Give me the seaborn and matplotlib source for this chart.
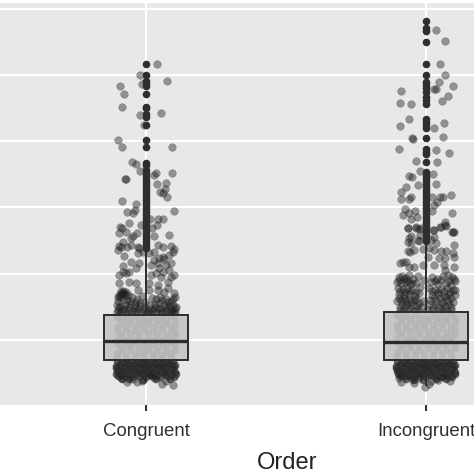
import numpy as np
import pandas as pd
import matplotlib
matplotlib.use("Agg")
import matplotlib.pyplot as plt
import seaborn as sns

# Values: (jitter offset, response) per trial
orders = ["Congruent", "Incongruent"]
y_grid = [65, 131, 198, 264, 330, 396]

# five-number summary: low whisker, q1, median, q3, high whisker
congruent_box = [23, 45, 64, 90, 155]
incongruent_box = [19, 45, 63, 93, 164]

congruent_outliers = [341, 330, 324, 322, 319, 311, 298, 297, 291, 288, 280, 265, 258, 242, 240, 235,
                      232, 229, 226, 223, 220, 217, 214, 211, 208, 205, 202, 199, 196, 193, 190, 187,
                      184, 181, 178, 175, 172, 169, 166, 163, 160, 157]
incongruent_outliers = [384, 377, 374, 363, 341, 330, 323, 320, 317, 313, 308, 305, 301, 286, 283, 280,
                        277, 267, 256, 253, 251, 243, 233, 230, 227, 224, 221, 218, 215, 212, 209, 206,
                        203, 200, 197, 194, 191, 188, 185, 182, 179, 176, 173, 170, 167, 164]

congruent_sparse = [(11,341),(-6,330),(21,324),(-26,319),(-22,311),(-4,321),(-24,298),(-6,290),(15,292),(-2,280),
    (-28,265),(-24,258),(26,258),(-14,243),(-10,241),(-6,234),(10,232),(8,230),(26,232),(-21,226),(-20,226),
    (11,221),(20,222),(19,216),(14,213),(17,212),(21,208),(-24,204),(-10,201),(-11,195),(-19,193),(-13,192),
    (28,194),(4,186),(12,186),(17,186),(-17,182),(11,180),(-5,180),(-26,178),(-24,177),(-20,173),(-27,172),
    (-9,172),(6,177),(23,170),(8,169),(-13,169)]
congruent_mid = [(-23,163),(-15,167),(-27,159),(-25,158),(-19,158),(-15,160),(-8,158),(-7,157),(12,160),(17,158),
    (25,159),(28,156),(-28,155),(-22,149),(-8,152),(-3,153),(8,153),(3,152),(23,150),(27,153),(17,148),(13,147),
    (18,146),(8,145),(-15,143),(-23,139),(-7,142),(5,140),(25,142),(12,142),(20,140),(-10,137),(-17,133),(-23,133),
    (-27,130),(-20,132),(5,130),(13,137),(17,133),(23,135),(10,132),(28,130),(25,128),(15,128),(-17,123),(-10,122),
    (-27,122),(3,122),(12,120),(22,123),(-25,114),(-22,112),(-18,110),(-27,110),(-8,115),(3,115),(12,115),(18,113),
    (28,112),(22,117),(-24,112),(-21,110),(-26,108),(-23,106),(-19,105),(-28,104),(-14,108),(-9,106),(-4,109),(6,107),
    (14,108),(20,106),(25,104),(29,108),(-29,100),(-25,99),(-21,100),(-16,101),(-11,100),(-6,102),(-1,103),(4,100),
    (9,101),(13,102),(18,100),(23,99),(27,100),(30,98),(-28,95),(-24,94),(-18,95),(-13,94),(-8,96),(-3,95),(2,94),
    (7,95),(12,96),(16,94),(21,95),(26,93),(29,94),(-26,92),(-15,92),(-5,92),(5,92),(15,92),(24,92)]
congruent_upper = [(-27,98),(-22,96),(-17,98),(-11,97),(-6,99),(-1,97),(4,96),(9,98),(14,97),(20,98),(25,96),(29,97),
    (-25,111),(-23,114),(-20,113),(-28,108),(-16,104),(-10,103),(10,106),(16,105),(22,103),(27,106),(-29,93),
    (-20,92),(-10,93),(0,92),(10,93),(19,92),(28,92)]
congruent_box_zone = [(-29,88),(-20,87),(-11,88),(-2,86),(7,88),(16,87),(25,88),(-25,81),(-16,82),(-7,80),(2,82),
    (11,81),(20,82),(29,80),(-29,74),(-20,75),(-11,74),(-2,76),(7,74),(16,75),(25,74),(-25,68),(-16,67),(-7,69),
    (2,67),(11,68),(20,67),(29,69),(-29,61),(-20,60),(-11,62),(-2,60),(7,61),(16,60),(25,62),(-25,54),(-16,55),
    (-7,53),(2,55),(11,54),(20,53),(29,55),(-29,48),(-20,47),(-11,48),(-2,47),(7,48),(16,47),(25,48),
    (-25,85),(-16,84),(-7,85),(2,84),(11,85),(20,84),(29,85),(-29,78),(-20,78),(-11,79),(-2,79),(7,78),(16,79),(25,78),
    (-25,71),(-16,72),(-7,73),(2,72),(11,72),(20,71),(29,73),(-29,65),(-20,64),(-11,65),(-2,64),(7,65),(16,64),(25,66),
    (-25,58),(-16,59),(-7,58),(2,59),(11,58),(20,58),(29,59),(-29,52),(-20,51),(-11,51),(-2,52),(7,51),(16,51),(25,52)]
congruent_bottom = [(-29,44),(-22,43),(-15,44),(-8,43),(-1,44),(6,43),(13,44),(20,43),(27,44),(-26,40),(-19,41),
    (-12,40),(-5,41),(2,40),(9,41),(16,40),(23,41),(29,40),(-30,37),(-23,36),(-16,37),(-9,36),(-2,37),(5,36),
    (12,37),(19,36),(26,37),(-27,33),(-20,32),(-13,33),(-6,32),(1,33),(8,32),(15,33),(22,32),(29,33),(-28,29),
    (-21,29),(-14,28),(-7,29),(0,28),(7,29),(14,28),(21,29),(28,28),(-24,26),(-17,26),(-3,25),(10,26),(24,26),
    (-25,42),(-18,42),(-11,42),(-4,42),(3,42),(10,42),(17,42),(24,42),(-30,39),(-22,38),(-15,38),(-8,39),(-1,38),
    (6,38),(13,39),(20,38),(28,38),(-29,34),(-24,34),(-17,35),(-10,34),(-3,35),(4,34),(11,35),(18,34),(25,35),
    (-30,31),(-25,30),(-17,30),(-10,31),(-3,31),(4,30),(11,30),(18,31),(25,30),(30,31)]
congruent_edge = [(-19,23),(-9,23),(4,30),(16,21),(27,20),(-25,27),(-13,26),(-4,24),(8,27),(20,24)]

incongruent_sparse = [(10,375),(19,364),(14,341),(19,330),(13,323),(27,319),(-25,314),(8,316),(10,316),(22,309),
    (16,304),(-26,302),(-15,301),(-17,286),(-26,279),(18,282),(8,277),(-14,267),(-13,266),(17,268),(-27,256),
    (10,255),(23,252),(-10,244),(11,243),(-6,234),(7,231),(-17,229),(-14,228),(-20,218),(-8,220),(10,221),
    (-25,213),(-25,206),(-17,206),(-15,208),(6,208),(14,208),(17,208),(25,210),(11,203),(8,200),(-21,196),
    (-11,194),(-17,192),(-23,190),(-9,188),(-15,186),(6,194),(26,192),(19,183),(19,180),(14,178),(-18,177),
    (-10,178),(-7,176),(7,175),(26,173),(28,173),(-15,169),(-6,170),(8,168)]
incongruent_mid = [(-18,177),(-10,177),(-5,177),(8,175),(15,178),(20,179),(27,173),(-17,167),(-18,163),(-8,165),
    (-15,162),(-7,164),(28,160),(10,162),(5,165),(8,155),(-18,154),(-16,153),(-12,155),(-3,156),(3,157),(15,154),
    (20,154),(27,152),(28,148),(19,147),(2,148),(-23,143),(-26,142),(-20,143),(-17,138),(-12,138),(-3,140),(8,140),
    (13,147),(18,140),(28,138),(19,135),(-27,128),(-24,129),(-20,127),(-17,130),(-13,126),(-8,129),(-2,125),(6,128),
    (11,126),(17,129),(22,130),(26,128),(29,124),(-29,123),(-25,122),(-21,123),(-16,121),(-10,122),(5,123),(12,121),
    (20,122),(25,120),(-28,117),(-23,116),(-19,117),(-14,115),(-6,118),(3,117),(9,115),(15,116),(21,117),(27,115),
    (-27,111),(-22,110),(-17,111),(-11,109),(-7,112),(6,110),(12,111),(18,109),(23,111),(29,110),(-29,104),(-25,105),
    (-20,104),(-15,103),(-10,106),(-3,104),(4,105),(10,104),(16,103),(22,105),(27,103),(-26,98),(-21,99),(-16,97),
    (-9,99),(-5,98),(7,98),(13,97),(19,99),(25,98),(-23,94),(-12,94),(1,95),(14,94),(21,94)]
incongruent_upper = [(-27,125),(-22,126),(-18,124),(-14,122),(9,124),(15,125),(23,124),(28,126),(-26,114),(-21,113),
    (-16,114),(-10,113),(6,114),(12,113),(18,114),(24,113),(29,115),(-27,107),(-22,107),(-17,106),(-12,105),(8,107),
    (14,107),(20,108),(25,107),(-24,101),(-19,101),(-13,100),(-7,102),(3,101),(10,100),(17,101),(23,101),(-26,95),
    (-18,95),(-8,95),(6,95),(17,95),(25,95)]
incongruent_box_zone = [(-29,90),(-20,89),(-11,90),(-2,88),(7,90),(16,89),(25,90),(-25,83),(-16,84),(-7,82),(2,84),
    (11,83),(20,84),(29,82),(-29,76),(-20,77),(-11,76),(-2,78),(7,76),(16,77),(25,76),(-25,70),(-16,69),(-7,71),
    (2,69),(11,70),(20,69),(29,71),(-29,63),(-20,62),(-11,64),(-2,62),(7,63),(16,62),(25,64),(-25,56),(-16,57),
    (-7,55),(2,57),(11,56),(20,55),(29,57),(-29,49),(-20,48),(-11,49),(-2,48),(7,49),(16,48),(25,49),
    (-25,87),(-16,86),(-7,87),(2,86),(11,87),(20,86),(29,87),(-29,80),(-20,80),(-11,81),(-2,81),(7,80),(16,81),(25,80),
    (-25,73),(-16,74),(-7,74),(2,73),(11,74),(20,73),(29,75),(-29,67),(-20,66),(-11,67),(-2,66),(7,67),(16,66),(25,68),
    (-25,60),(-16,60),(-7,60),(2,61),(11,60),(20,60),(29,61),(-29,53),(-20,52),(-11,53),(-2,52),(7,53),(16,52),(25,53)]
incongruent_bottom = [(-29,44),(-22,43),(-15,44),(-8,43),(-1,44),(6,43),(13,44),(20,43),(27,44),(-26,40),(-19,41),
    (-12,40),(-5,41),(2,40),(9,41),(16,40),(23,41),(29,40),(-30,37),(-23,36),(-16,37),(-9,36),(-2,37),(5,36),
    (12,37),(19,36),(26,37),(-27,33),(-20,32),(-13,33),(-6,32),(1,33),(8,32),(15,33),(22,32),(29,33),(-26,29),
    (-20,29),(-14,28),(-7,29),(0,28),(7,29),(14,28),(21,29),(26,28),(-20,26),(-12,25),(-3,25),(10,26),(20,26),
    (-25,42),(-18,42),(-11,42),(-4,42),(3,42),(10,42),(17,42),(24,42),(-30,39),(-22,38),(-15,38),(-8,39),(-1,38),
    (6,38),(13,39),(20,38),(28,38),(-29,34),(-24,34),(-17,35),(-10,34),(-3,35),(4,34),(11,35),(18,34),(25,35),
    (-28,31),(-24,30),(-17,30),(-10,31),(-3,31),(4,30),(11,30),(18,31),(25,30),(29,31)]
incongruent_edge = [(-27,27),(-25,23),(-14,26),(-12,22),(-1,18),(5,24),(12,25),(24,24),(-7,27),(17,28),(3,21)]

# pixels per category unit on the x axis
PX_PER_UNIT = 280
DOT_SIZE = 30


def points(pairs, pos, order):
    arr = np.array(pairs, dtype=float)
    return pd.DataFrame({"order": order, "pos": pos + arr[:, 0] / PX_PER_UNIT, "value": arr[:, 1]})


sns.set_theme(style="darkgrid", rc={
    "axes.facecolor": "#e8e8e8",
    "grid.color": "white",
    "axes.axisbelow": True,
})
plt.rcParams["font.family"] = ["Liberation Sans", "DejaVu Sans"]

fig = plt.figure(figsize=(4.74, 4.74), dpi=100)
ax = fig.add_axes([0, 69 / 474, 1, 402 / 474])

light = pd.concat([points(congruent_sparse + congruent_mid + congruent_upper + congruent_edge, 0, orders[0]),
                   points(incongruent_sparse + incongruent_mid + incongruent_upper + incongruent_edge, 1, orders[1])])
dense = pd.concat([points(congruent_box_zone + congruent_bottom, 0, orders[0]),
                   points(incongruent_box_zone + incongruent_bottom, 1, orders[1])])
outliers = pd.DataFrame({"pos": [0] * len(congruent_outliers) + [1] * len(incongruent_outliers),
                         "value": congruent_outliers + incongruent_outliers})
boxes = pd.DataFrame({"pos": [0] * 5 + [1] * 5, "value": congruent_box + incongruent_box})

sns.scatterplot(data=dense, x="pos", y="value", color="#2a2a2a", alpha=0.72, s=DOT_SIZE, linewidth=0, ax=ax)
sns.scatterplot(data=light, x="pos", y="value", color="#1a1a1a", alpha=0.42, s=DOT_SIZE,
                edgecolor="#333333", linewidth=0.4, ax=ax)
sns.scatterplot(data=outliers, x="pos", y="value", color="#2e2e2e", s=DOT_SIZE, linewidth=0, ax=ax)
sns.boxplot(data=boxes, x="pos", y="value", native_scale=True, width=0.302, gap=0,
            whis=(0, 100), showfliers=False, showcaps=False, color="#c4c4c4", linecolor="#2c2c2c",
            linewidth=1.4, boxprops={"facecolor": (0.77, 0.77, 0.77, 0.9)},
            medianprops={"linewidth": 2.4}, ax=ax)

ax.set_xlim(-146 / PX_PER_UNIT, (474 - 146) / PX_PER_UNIT)
ax.set_ylim(0, 402)
ax.set_yticks(y_grid)
ax.set_yticklabels([])
ax.set_xticks([0, 1])
ax.set_xticklabels(orders, fontsize=13.4, color="#303030")
ax.grid(True, axis="both", color="white", linewidth=1.5)
ax.tick_params(axis="x", length=4.5, width=1.5, color="#333333", bottom=True, pad=8.5)
ax.tick_params(axis="y", length=0)
for side in ax.spines.values():
    side.set_visible(False)
ax.set_ylabel("")
ax.set_xlabel("Order", fontsize=17, color="#222222", va="center")
ax.xaxis.set_label_coords(287 / 474, -58 / 402)

fig.savefig("out.png", dpi=100)
